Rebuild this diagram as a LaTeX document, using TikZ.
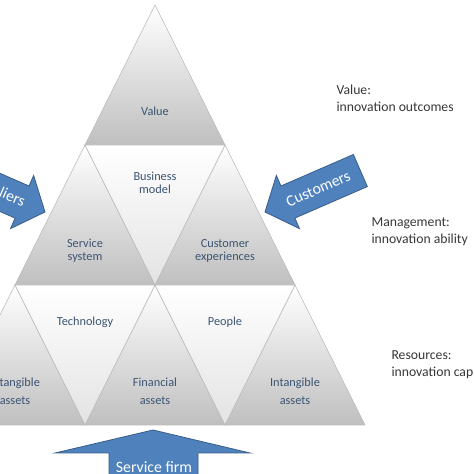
\documentclass[tikz,border=0pt]{standalone}
\usepackage{fontspec}
\setmainfont{Carlito}
\usetikzlibrary{positioning}
\definecolor{arrowblue}{RGB}{79,129,189}
\definecolor{arrowedge}{RGB}{56,93,138}
\definecolor{labelblue}{RGB}{60,84,115}
\definecolor{sidegray}{RGB}{55,55,55}
\tikzset{
    uptri/.style={draw=gray!55, line width=0.6pt, top color=white, bottom color=gray!50},
    downtri/.style={draw=gray!55, line width=0.6pt, top color=white, bottom color=gray!22},
    trilabel/.style={align=center, text=labelblue, font=\fontsize{12.3}{13}\selectfont},
    levellabel/.style={align=left, anchor=west, text=sidegray, font=\fontsize{13.7}{17}\selectfont},
    blockarrow/.style={draw=arrowedge, line width=0.8pt, fill=arrowblue},
    arrowtext/.style={text=white, font=\fontsize{15.8}{18}\selectfont, transform shape},
}

\begin{document}
\begin{tikzpicture}[x=1pt, y=1pt]
    \useasboundingbox (0,0) rectangle (474,474);
    \clip (0,0) rectangle (474,474);

    % Upright triangles (apex given)
    \foreach \ax/\ay in {155/469, 85/329, 225/329, 15/189, 155/189, 295/189}
        \path[uptri] (\ax,\ay) -- ++(-70,-140) -- ++(140,0) -- cycle;

    % Inverted triangles (bottom vertex given)
    \foreach \bx/\by in {155/189, 85/49, 225/49}
        \path[downtri] (\bx,\by) -- ++(-70,140) -- ++(140,0) -- cycle;

    % Labels inside the pyramid
    \node[trilabel] (value) at (155,363) {Value};
    \node[trilabel] (bizmodel) at (155,291) {Business\\model};
    \node[trilabel] (servsys) at (85,223) {Service\\system};
    \node[trilabel] (custexp) at (225,223) {Customer\\experiences};
    \node[trilabel] (tech) at (85,152) {Technology};
    \node[trilabel] (people) at (225,152) {People};
    \node[trilabel, font=\fontsize{12.3}{18}\selectfont] (intangleft) at (15,83) {Intangible\\assets};
    \node[trilabel, font=\fontsize{12.3}{18}\selectfont] (financial) at (155,83) {Financial\\assets};
    \node[trilabel, font=\fontsize{12.3}{18}\selectfont] (intangright) at (295,83) {Intangible\\assets};

    % Level descriptions on the right
    \node[levellabel] (valuelvl) at (333,375.5) {Value:\\innovation outcomes};
    \node[levellabel] (mgmtlvl) at (368,242.5) {Management:\\innovation ability};
    \node[levellabel] (reslvl) at (388,109.5) {Resources:\\innovation cap};

    % Customers arrow
    \begin{scope}[shift={(265,262)}, rotate=23.5]
        \draw[blockarrow] (0,0) -- (25,29) -- (25,17.5) -- (104,17.5)
            -- (104,-17.5) -- (25,-17.5) -- (25,-29) -- cycle;
        \node[arrowtext] (customers) at (58,0) {Customers};
    \end{scope}

    % Suppliers arrow
    \begin{scope}[shift={(45,262)}, rotate=-23.5]
        \draw[blockarrow] (0,0) -- (-25,29) -- (-25,17.5) -- (-104,17.5)
            -- (-104,-17.5) -- (-25,-17.5) -- (-25,-29) -- cycle;
        \node[arrowtext] (suppliers) at (-52,0) {Suppliers};
    \end{scope}

    % Service firm arrow
    \draw[blockarrow] (153,44) -- (250,21) -- (198,21) -- (198,-10)
        -- (109,-10) -- (109,21) -- (55,21) -- cycle;
    \node[arrowtext] (firm) at (154,7) {Service firm};
\end{tikzpicture}
\end{document}
